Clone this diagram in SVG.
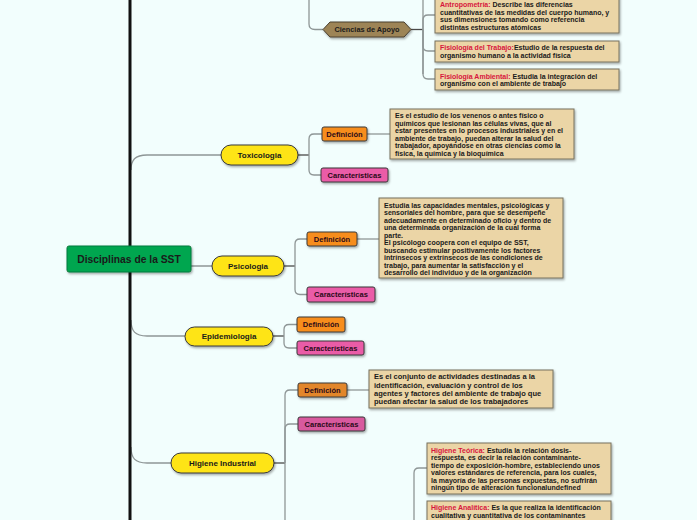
<svg xmlns="http://www.w3.org/2000/svg" width="697" height="520" viewBox="0 0 697 520">
<defs>
<filter id="sh" x="-10%" y="-20%" width="130%" height="160%">
<feDropShadow dx="1" dy="1.5" stdDeviation="0.8" flood-color="#000" flood-opacity="0.35"/>
</filter>
<style>
text{font-family:"Liberation Sans",Arial,sans-serif;font-weight:bold;fill:#1a1a1a}
.c{fill:none;stroke:#8e9696;stroke-width:1.3}
.cd{fill:none;stroke:#4a4a4a;stroke-width:1.3}
.pill{fill:#fee418;stroke:#3a3a3a;stroke-width:1;filter:url(#sh)}
.tan{fill:#ebd5a6;stroke:#77705f;stroke-width:1;filter:url(#sh)}
.org{fill:#f78d1f;stroke:#3a3a3a;stroke-width:1;filter:url(#sh)}
.org2{fill:#e2862a;stroke:#3a3a3a;stroke-width:1;filter:url(#sh)}
.pnk{fill:#ea5ba7;stroke:#3a3a3a;stroke-width:1;filter:url(#sh)}
.pnk2{fill:#d85a9e;stroke:#3a3a3a;stroke-width:1;filter:url(#sh)}
.nl{font-size:8px;text-anchor:middle}
.sl{font-size:7.5px;text-anchor:middle;fill:#2a0a18}
.bt{font-size:7px}
.red{fill:#d7163c}
</style>
</defs>
<rect x="0" y="0" width="697" height="520" fill="#f2fefd"/>

<g id="connectors">
<!-- main branches -->
<path class="c" d="M131,170 C131,160 135,155 147,155 H221"/>
<path class="c" d="M131,266 H212"/>
<path class="c" d="M131,320 C131,331 135,336 147,336 H185"/>
<path class="c" d="M131,447 C131,458 135,463 147,463 H171"/>
<!-- ciencias de apoyo -->
<path class="c" d="M309,0 V24 Q309,29.5 315,29.5 H323"/>
<path class="cd" d="M411,29.5 H423"/>
<path class="c" d="M423,0 V74"/>
<path class="c" d="M423,29.5 V20 Q423,15 428,15 H435"/>
<path class="c" d="M423,29.5 V46 Q423,51 428,51 H435"/>
<path class="c" d="M423,29.5 V74 Q423,79 428,79 H435"/>
<!-- toxicologia -->
<path class="cd" d="M298,155 H309"/>
<path class="c" d="M309,155 V139 Q309,134 314,134 H322"/>
<path class="c" d="M309,155 V170 Q309,175 314,175 H321"/>
<path class="c" d="M367,134 H390"/>
<!-- psicologia -->
<path class="cd" d="M284,266 H295"/>
<path class="c" d="M295,266 V244 Q295,239 300,239 H307"/>
<path class="c" d="M295,266 V289.5 Q295,294.5 300,294.5 H307"/>
<path class="c" d="M357,239 H379"/>
<!-- epidemiologia -->
<path class="cd" d="M273,336 H284"/>
<path class="c" d="M284,336 V329.5 Q284,324.5 289,324.5 H297"/>
<path class="c" d="M284,336 V343 Q284,348 289,348 H297"/>
<!-- higiene industrial -->
<path class="cd" d="M274,463 H285"/>
<path class="c" d="M285,463 V395 Q285,390 290,390 H298"/>
<path class="c" d="M285,463 V429 Q285,424 290,424 H298"/>
<path class="c" d="M285,463 V520"/>
<path class="c" d="M347,390 H369"/>
<path class="c" d="M414,520 V473 Q414,468 419,468 H427"/>
</g>

<rect x="128.5" y="0" width="3" height="520" fill="#111"/>

<g id="central">
<rect x="67" y="246" width="124" height="26" rx="2" fill="#03a650" stroke="#0b7a3c" stroke-width="1" filter="url(#sh)"/>
<text x="129" y="263" style="font-size:10.3px;text-anchor:middle">Disciplinas de la SST</text>
</g>

<g id="ciencias-apoyo">
<polygon points="323,29.5 330,22 404,22 411,29.5 404,37 330,37" fill="#9d8456" stroke="#4a4030" stroke-width="1" filter="url(#sh)"/>
<text x="367" y="32.2" style="font-size:7.3px;text-anchor:middle">Ciencias de Apoyo</text>
</g>

<g id="antropometria">
<rect class="tan" x="435" y="-5" width="184" height="38"/>
<text class="bt" x="440" y="7.2"><tspan class="red">Antropometría:</tspan> Describe las diferencias</text>
<text class="bt" x="440" y="14.7">cuantitativas de las medidas del cuerpo humano, y</text>
<text class="bt" x="440" y="22.2">sus dimensiones tomando como referencia</text>
<text class="bt" x="440" y="29.7">distintas estructuras atómicas</text>
</g>

<g id="fisiologia-trabajo">
<rect class="tan" x="435" y="41" width="184" height="21"/>
<text class="bt" x="440" y="50.2"><tspan class="red">Fisiología del Trabajo:</tspan>Estudio de la respuesta del</text>
<text class="bt" x="440" y="57.8">organismo humano a la actividad física</text>
</g>

<g id="fisiologia-ambiental">
<rect class="tan" x="435" y="69" width="184" height="21"/>
<text class="bt" x="440" y="78.8"><tspan class="red">Fisiología Ambiental:</tspan> Estudia la integración del</text>
<text class="bt" x="440" y="86.3">organismo con el ambiente de trabajo</text>
</g>

<g id="toxicologia">
<rect class="pill" x="221" y="145" width="77" height="20" rx="10"/>
<text class="nl" x="259.5" y="157.8">Toxicologia</text>
</g>
<g id="tox-definicion">
<rect class="org" x="322" y="127" width="45" height="14" rx="2"/>
<text class="sl" x="344.5" y="136.7">Definición</text>
</g>
<g id="tox-caracteristicas">
<rect class="pnk" x="321" y="168" width="67" height="14" rx="2"/>
<text class="sl" x="354.5" y="177.7">Características</text>
</g>
<g id="tox-texto">
<rect class="tan" x="390" y="109" width="184" height="50"/>
<text class="bt" x="395" y="118.2">Es el estudio de los venenos o antes físico o</text>
<text class="bt" x="395" y="125.7">químicos que lesionan las células vivas, que al</text>
<text class="bt" x="395" y="133.2">estar presentes en lo procesos industriales y en el</text>
<text class="bt" x="395" y="140.7">ambiente de trabajo, puedan alterar la salud del</text>
<text class="bt" x="395" y="148.2">trabajador, apoyándose en otras ciencias como la</text>
<text class="bt" x="395" y="155.7">física, la química y la bioquímica</text>
</g>

<g id="psicologia">
<rect class="pill" x="212" y="256" width="72" height="20" rx="10"/>
<text class="nl" x="248" y="268.8">Psicologia</text>
</g>
<g id="psi-definicion">
<rect class="org" x="307" y="232" width="50" height="14" rx="2"/>
<text class="sl" x="332" y="241.7">Definición</text>
</g>
<g id="psi-caracteristicas">
<rect class="pnk" x="307" y="287" width="68" height="15" rx="2"/>
<text class="sl" x="341" y="297.2">Características</text>
</g>
<g id="psi-texto">
<rect class="tan" x="379" y="198" width="184" height="80"/>
<text class="bt" x="384" y="207.5">Estudia las capacidades mentales, psicológicas y</text>
<text class="bt" x="384" y="215">sensoriales del hombre, para que se desempeñe</text>
<text class="bt" x="384" y="222.5">adecuadamente en determinado oficio y dentro de</text>
<text class="bt" x="384" y="230">una determinada organización de la cual forma</text>
<text class="bt" x="384" y="237.6">parte.</text>
<text class="bt" x="384" y="245.1">El psicólogo coopera con el equipo de SST,</text>
<text class="bt" x="384" y="252.6">buscando estimular positivamente los factores</text>
<text class="bt" x="384" y="260.2">intrínsecos y extrínsecos de las condiciones de</text>
<text class="bt" x="384" y="267.7">trabajo, para aumentar la satisfacción y el</text>
<text class="bt" x="384" y="275.2">desarrollo del individuo y de la organización</text>
</g>

<g id="epidemiologia">
<rect class="pill" x="185" y="327" width="88" height="19" rx="9.5"/>
<text class="nl" x="229" y="339.3">Epidemiologia</text>
</g>
<g id="epi-definicion">
<rect class="org" x="297" y="317" width="48" height="15" rx="2"/>
<text class="sl" x="321" y="327.2">Definición</text>
</g>
<g id="epi-caracteristicas">
<rect class="pnk" x="297" y="341" width="67" height="14" rx="2"/>
<text class="sl" x="330.5" y="350.7">Características</text>
</g>

<g id="higiene-industrial">
<rect class="pill" x="171" y="453" width="103" height="20" rx="10"/>
<text class="nl" x="222.5" y="465.8">Higiene Industrial</text>
</g>
<g id="hi-definicion">
<rect class="org2" x="298" y="383" width="49" height="14" rx="2"/>
<text class="sl" x="322.5" y="392.7">Definición</text>
</g>
<g id="hi-caracteristicas">
<rect class="pnk2" x="298" y="417" width="67" height="14" rx="2"/>
<text class="sl" x="331.5" y="426.7">Características</text>
</g>
<g id="hi-texto">
<rect class="tan" x="369" y="370" width="184" height="38"/>
<text class="bt" x="374" y="379.4" style="font-size:7.5px">Es el conjunto de actividades destinadas a la</text>
<text class="bt" x="374" y="387.7" style="font-size:7.5px">identificación, evaluación y control de los</text>
<text class="bt" x="374" y="396" style="font-size:7.5px">agentes y factores del ambiente de trabajo que</text>
<text class="bt" x="374" y="404.3" style="font-size:7.5px">puedan afectar la salud de los trabajadores</text>
</g>

<g id="higiene-teorica">
<rect class="tan" x="427" y="443" width="184" height="51"/>
<text class="bt" x="431" y="452.5"><tspan class="red">Higiene Teórica:</tspan> Estudia la relación dosis-</text>
<text class="bt" x="431" y="460">respuesta, es decir la relación contaminante-</text>
<text class="bt" x="431" y="467.5">tiempo de exposición-hombre, estableciendo unos</text>
<text class="bt" x="431" y="475">valores estándares de referencia, para los cuales,</text>
<text class="bt" x="431" y="482.5">la mayoría de las personas expuestas, no sufrirán</text>
<text class="bt" x="431" y="490">ningún tipo de alteración funcionalundefined</text>
</g>

<g id="higiene-analitica">
<rect class="tan" x="427" y="501" width="184" height="30"/>
<text class="bt" x="431" y="510.3"><tspan class="red">Higiene Analítica:</tspan> Es la que realiza la identificación</text>
<text class="bt" x="431" y="518">cualitativa y cuantitativa de los contaminantes</text>
</g>
</svg>
